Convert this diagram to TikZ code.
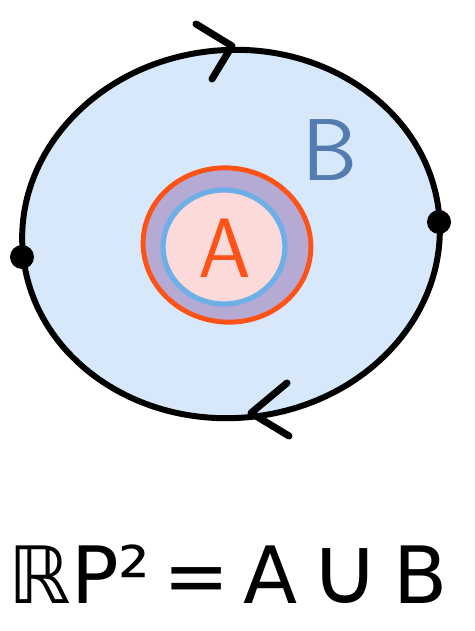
\documentclass[tikz,border=0pt]{standalone}
\usepackage{fontspec}
\newfontfamily\handfont{DejaVu Sans}
\definecolor{diskblue}{RGB}{214,232,250}
\definecolor{ringpurple}{RGB}{180,170,212}
\definecolor{corepink}{RGB}{252,218,218}
\definecolor{rimorange}{RGB}{255,82,22}
\definecolor{rimblue}{RGB}{110,175,232}
\definecolor{labelblue}{RGB}{84,124,176}

\begin{document}
\begin{tikzpicture}[x=0.02cm, y=-0.02cm, line cap=round, line join=round]
    \useasboundingbox (0,0) rectangle (474,631);

    % Outer disc
    \fill[diskblue, rotate around={5:(231,234)}] (231,234) ellipse [x radius=209, y radius=184];
    \draw[line width=3.4pt, rotate around={5:(231,234)}] (231,234) ellipse [x radius=209, y radius=184];

    % Identified points
    \fill (22,257) circle [radius=12];
    \fill (439,222) circle [radius=12];

    % Orientation arrows
    \draw[line width=4pt] (196,24) -- (232,46) -- (212,79);
    \draw[line width=4pt] (287,383) -- (251,413) -- (289,436);

    % Region A
    \fill[ringpurple, rotate around={-8:(227,245)}] (227,245) ellipse [x radius=84, y radius=77];
    \draw[rimorange, line width=2.8pt, rotate around={-8:(227,245)}] (227,245) ellipse [x radius=84, y radius=77];
    \fill[corepink] (224,247) ellipse [x radius=61, y radius=57];
    \draw[rimblue, line width=3pt] (224,247) ellipse [x radius=61, y radius=57];

    \node[text=rimorange, font=\fontsize{48}{52}\selectfont\sffamily] (labelA) at (225,248) {A};
    \node[text=labelblue, font=\fontsize{50}{54}\selectfont\sffamily] (labelB) at (330,150) {B};

    % Formula
    \node[anchor=base, font=\fontsize{45}{50}\selectfont\handfont] (formula) at (228,603)
        {ℝP²\,=\,A\,\scalebox{1.2}{∪}\,B};
\end{tikzpicture}
\end{document}
